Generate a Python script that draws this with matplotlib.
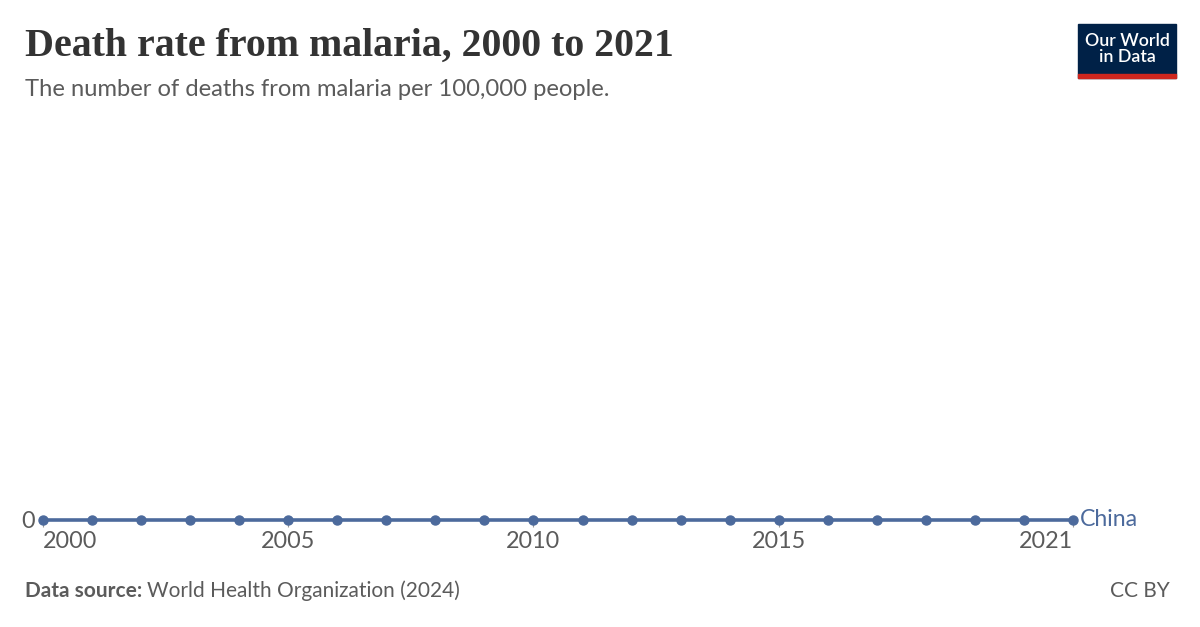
import matplotlib
matplotlib.use("Agg")
import matplotlib.pyplot as plt
from matplotlib.patches import Rectangle

# data (deaths per 100,000 - effectively zero for China)
years = list(range(2000, 2022))
china = [0.0] * len(years)
xticks = [2000, 2005, 2010, 2015, 2021]

blue = "#4c6a9c"
grey = "#5b5b5b"

plt.rcParams["font.family"] = ["Lato", "DejaVu Sans"]

fig = plt.figure(figsize=(12, 6.27), dpi=100)
ax = fig.add_axes([43 / 1200, 107 / 627, 1030 / 1200, 400 / 627])

ax.plot(years, china, color=blue, lw=2.6, marker="o", ms=6.5, clip_on=False, zorder=3)
ax.set_xlim(2000, 2021)
ax.set_ylim(0, 1)

ax.set_yticks([0])
ax.set_yticklabels(["0"])
ax.set_xticks(xticks)
ax.set_xticklabels([str(x) for x in xticks])
labels = ax.get_xticklabels()
labels[0].set_ha("left")
labels[-1].set_ha("right")

ax.tick_params(axis="x", length=5, color="#999999", labelsize=16.8, labelcolor=grey, pad=3)
ax.tick_params(axis="y", length=0, labelsize=16.8, labelcolor=grey, pad=6)
for s in ax.spines.values():
    s.set_visible(False)

ax.text(2021.15, 0, "China", color=blue, fontsize=16.7, va="center", ha="left")

# title & subtitle
fig.text(25 / 1200, 1 - 46 / 627, "Death rate from malaria, 2000 to 2021",
         fontsize=28.7, fontweight="bold", family=["Liberation Serif", "DejaVu Serif"],
         color="#333333", va="center")
fig.text(25 / 1200, 1 - 89 / 627, "The number of deaths from malaria per 100,000 people.",
         fontsize=17.1, color=grey, va="center")

# footer
src = fig.text(25 / 1200, 1 - 591 / 627, "Data source:", fontsize=15, fontweight="bold",
               color=grey, va="center")
fig.canvas.draw()
bb = src.get_window_extent()
fig.text((bb.x1 + 5) / 1200, 1 - 591 / 627, "World Health Organization (2024)", fontsize=15,
         color=grey, va="center")
fig.text(1170 / 1200, 1 - 591 / 627, "CC BY", fontsize=15, color=grey, va="center", ha="right")

# logo
fig.patches.append(Rectangle((1078 / 1200, 1 - 78 / 627), 98 / 1200, 54 / 627,
                             transform=fig.transFigure, color="#002147", zorder=5))
fig.patches.append(Rectangle((1078 / 1200, 1 - 78 / 627), 98 / 1200, 4 / 627,
                             transform=fig.transFigure, color="#ce261e", zorder=6))
fig.text(1127 / 1200, 1 - 49 / 627, "Our World\nin Data", color="white", fontsize=12.8,
         fontweight="semibold", ha="center", va="center", linespacing=1.05, zorder=7)

fig.savefig("out.png", dpi=100)
